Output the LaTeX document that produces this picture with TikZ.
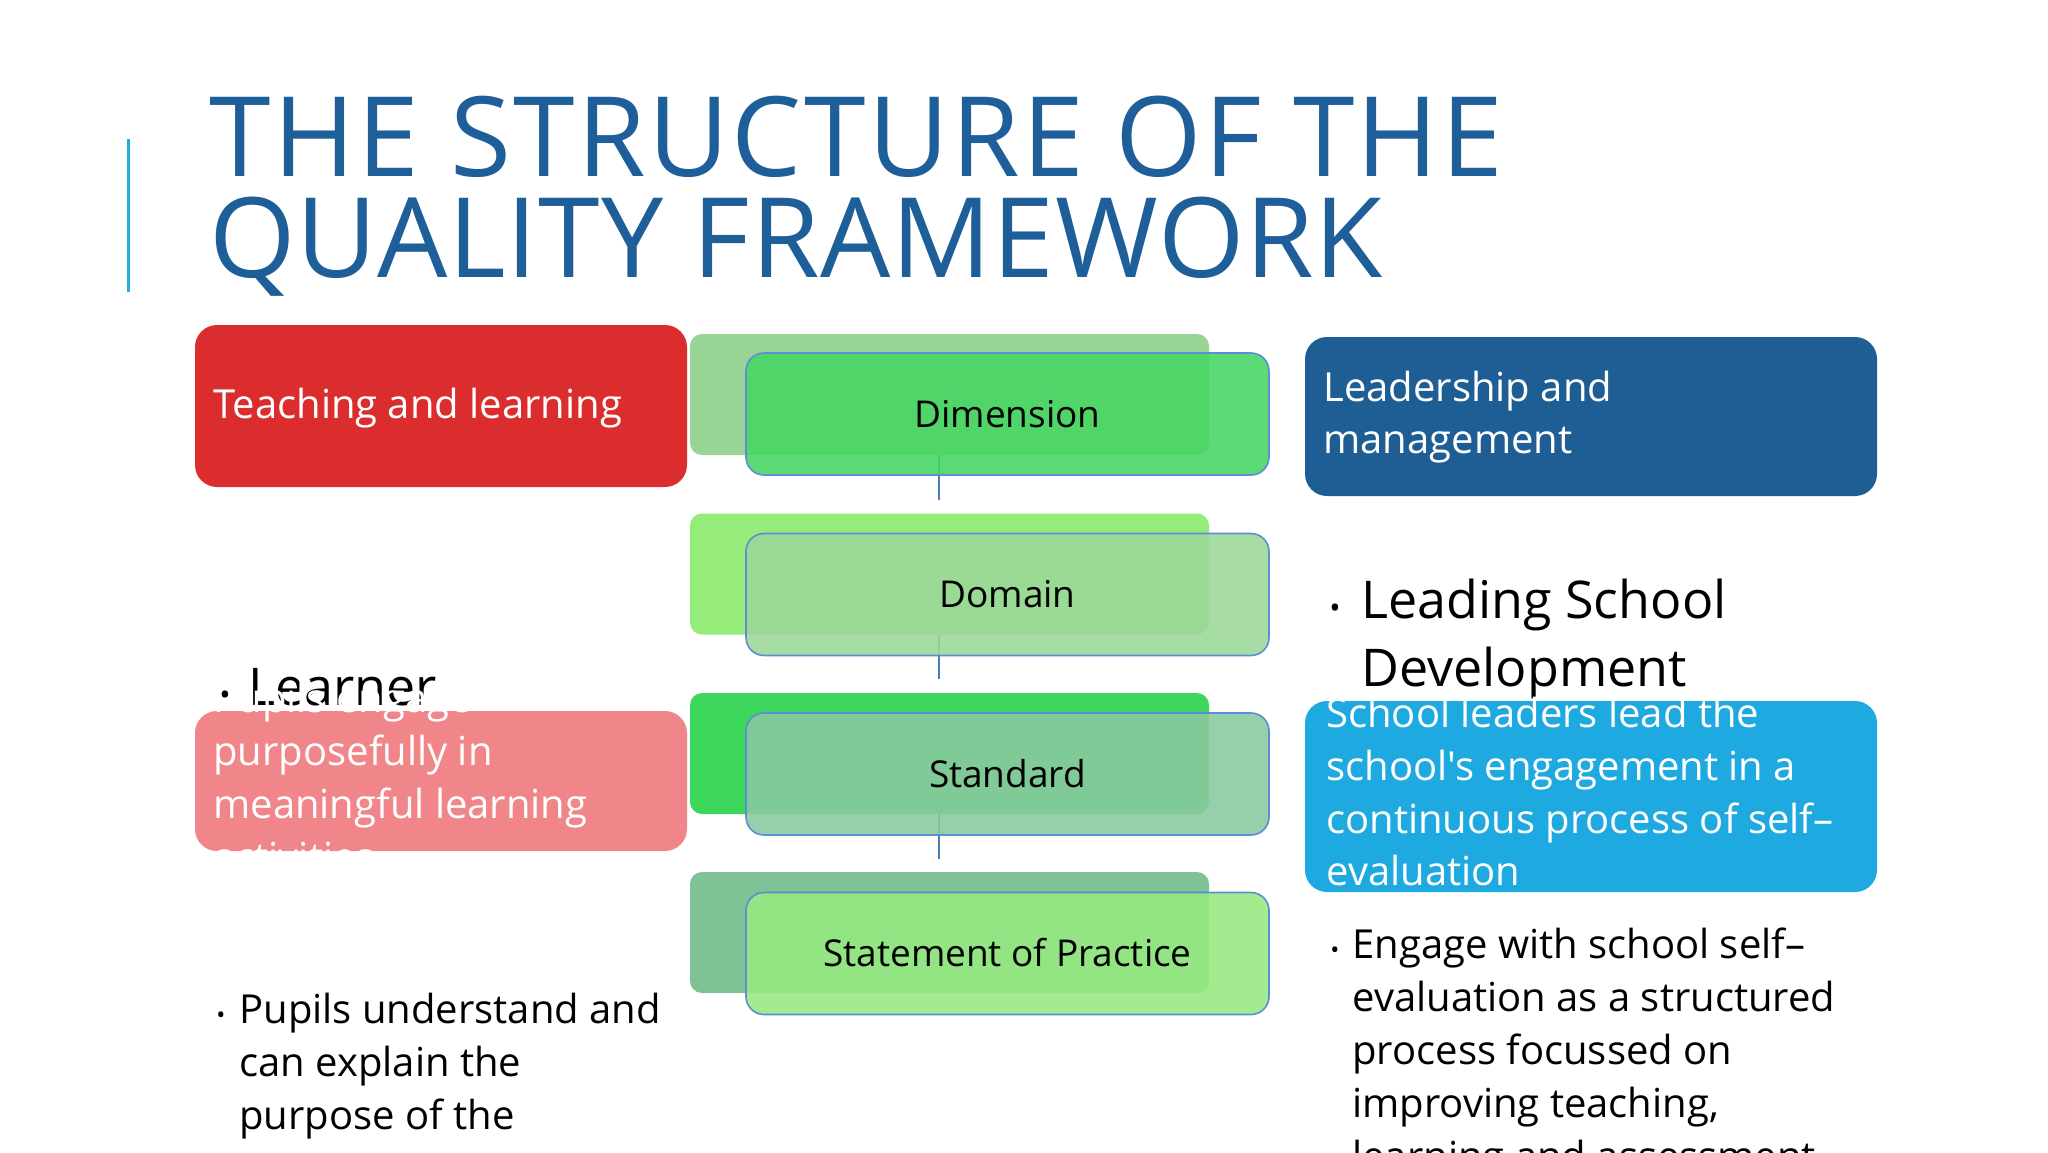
\documentclass[tikz,border=0pt]{standalone}
\usepackage{fontspec}
\setmainfont{Open Sans}[Ligatures=TeXOff]
\definecolor{titleblue}{HTML}{1F5F99}
\definecolor{barblue}{HTML}{29ABE2}
\definecolor{tlred}{HTML}{DB2D2D}
\definecolor{tlpink}{HTML}{F0868A}
\definecolor{lmblue}{HTML}{1F5E94}
\definecolor{skyblue}{HTML}{1EAAE0}
\definecolor{bkone}{HTML}{98D494}
\definecolor{frone}{HTML}{46D663}
\definecolor{bktwo}{HTML}{95EC7B}
\definecolor{frtwo}{HTML}{9BD898}
\definecolor{bkthree}{HTML}{3DD85B}
\definecolor{frthree}{HTML}{8AC9A0}
\definecolor{bkfour}{HTML}{7EC296}
\definecolor{frfour}{HTML}{97E980}
\definecolor{edgeblue}{HTML}{5B8ED6}
\definecolor{connblue}{HTML}{4A7EBB}
\begin{document}
\begin{tikzpicture}[x=0.5pt,y=-0.5pt,
  ttl/.style={anchor=base west,inner sep=0,text=titleblue,font=\fontsize{55.5}{60}\selectfont},
  wtxt/.style={anchor=base west,inner sep=0,text=white,font=\fontsize{20}{24}\selectfont},
  btxt/.style={anchor=base west,inner sep=0,text=black,font=\fontsize{20}{24}\selectfont},
  bigtxt/.style={anchor=base west,inner sep=0,text=black,font=\fontsize{26}{30}\selectfont},
  ctxt/.style={anchor=base,inner sep=0,text=black,font=\fontsize{18.5}{22}\selectfont},
  sbul/.style={anchor=base west,inner sep=0,text=black,font=\fontsize{12}{14}\selectfont},
  lbul/.style={anchor=base west,inner sep=0,text=black,font=\fontsize{15}{18}\selectfont},
  colbox/.style={rectangle,rounded corners=11pt,inner sep=0,draw=none,minimum width=246pt},
  sidebox/.style={rectangle,rounded corners=11pt,inner sep=0,draw=none,minimum width=286pt},
  backbox/.style={rectangle,rounded corners=6pt,inner sep=0,draw=none,minimum width=259.5pt,minimum height=60.5pt},
  frontbox/.style={rectangle,rounded corners=9pt,inner sep=0,draw=edgeblue,line width=0.8pt,fill opacity=0.88,minimum width=261.5pt,minimum height=61pt},
  conn/.style={draw=connblue,line width=1pt}]
\clip (0,0) rectangle (2048,1152);
\fill[white] (0,0) rectangle (2048,1152);

% title
\draw[barblue,line width=1.5pt] (128,139) -- (128,292);
\node[ttl] (t1) at (209,176) {\addfontfeature{LetterSpace=2.2}THE STRUCTURE OF THE};
\node[ttl] (t2) at (209,277) {\addfontfeature{LetterSpace=0.8}QUALITY FRAMEWORK};

% left column
\node[colbox,fill=tlred,minimum height=81pt] (tl) at (441,406) {};
\node[wtxt] (tlt) at (213,418) {Teaching and learning};
\node[lbul] (lb) at (219,705) {•};
\node[bigtxt] (lrn) at (248,705) {Learner};
\node[colbox,fill=tlpink,minimum height=70pt] (pk) at (441,781) {};
\node[wtxt] (pk1) at (213,712) {Pupils engage};
\node[wtxt] (pk2) at (213,765) {purposefully in};
\node[wtxt] (pk3) at (213,818) {meaningful learning};
\node[wtxt] (pk4) at (213,871) {activities};
\node[sbul] (pb) at (216,1023) {•};
\node[btxt] (pu1) at (239,1023) {Pupils understand and};
\node[btxt] (pu2) at (239,1076) {can explain the};
\node[btxt] (pu3) at (239,1129) {purpose of the};

% centre column
\node[backbox,fill=bkone] (b1) at (949.5,394.5) {};
\node[backbox,fill=bktwo] (b2) at (949.5,574) {};
\node[backbox,fill=bkthree] (b3) at (949.5,753.5) {};
\node[backbox,fill=bkfour] (b4) at (949.5,932.5) {};
\coordinate (l1) at (939,500);
\coordinate (l2) at (939,679);
\coordinate (l3) at (939,859);
\draw[conn] (b1.south -| l1) -- (l1);
\draw[conn] (b2.south -| l2) -- (l2);
\draw[conn] (b3.south -| l3) -- (l3);
\node[frontbox,fill=frone] (f1) at (1007.5,414) {};
\node[frontbox,fill=frtwo] (f2) at (1007.5,594.5) {};
\node[frontbox,fill=frthree] (f3) at (1007.5,774) {};
\node[frontbox,fill=frfour] (f4) at (1007.5,953.5) {};
\node[ctxt] (d1) at (1007.5,427) {Dimension};
\node[ctxt] (d2) at (1007.5,607.5) {Domain};
\node[ctxt] (d3) at (1007.5,787) {Standard};
\node[ctxt] (d4) at (1007.5,966.5) {Statement of Practice};

% right column
\node[sidebox,fill=lmblue,minimum height=79.5pt] (lm) at (1591,416.5) {};
\node[wtxt] (lm1) at (1323,401) {Leadership and};
\node[wtxt] (lm2) at (1323,453) {management};
\node[lbul] (rb) at (1329,618) {•};
\node[bigtxt] (ls1) at (1361,618) {Leading School};
\node[bigtxt] (ls2) at (1361,686) {Development};
\node[sidebox,fill=skyblue,minimum height=95.5pt] (sk) at (1591,796.5) {};
\node[wtxt] (sk1) at (1326,727) {School leaders lead the};
\node[wtxt] (sk2) at (1326,780) {school's engagement in a};
\node[wtxt] (sk3) at (1326,833) {continuous process of self–};
\node[wtxt] (sk4) at (1326,885) {evaluation};
\node[sbul] (eb) at (1330,958) {•};
\node[btxt] (en1) at (1352,958) {Engage with school self–};
\node[btxt] (en2) at (1352,1011) {evaluation as a structured};
\node[btxt] (en3) at (1352,1064) {process focussed on};
\node[btxt] (en4) at (1352,1117) {improving teaching,};
\node[btxt] (en5) at (1352,1170) {learning and assessment};
\end{tikzpicture}
\end{document}
